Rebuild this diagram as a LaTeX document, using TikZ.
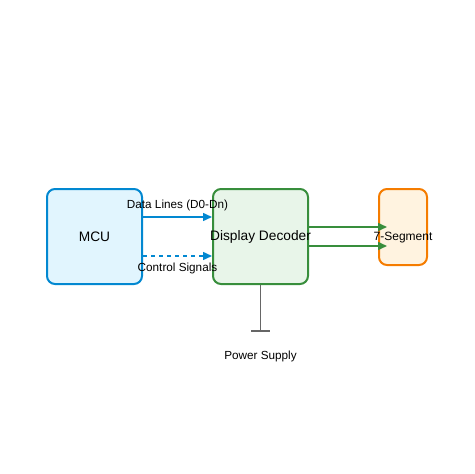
\documentclass[tikz,border=0pt]{standalone}
\definecolor{mcublue}{RGB}{2,136,209}
\definecolor{mcufill}{RGB}{225,245,254}
\definecolor{decgreen}{RGB}{56,142,60}
\definecolor{decfill}{RGB}{232,245,233}
\definecolor{segorange}{RGB}{245,124,0}
\definecolor{segfill}{RGB}{255,243,224}
\definecolor{pwrgray}{RGB}{102,102,102}
\usepackage{fontspec}
\setmainfont{Liberation Sans}
\usepackage{tikz}
\usetikzlibrary{arrows.meta, positioning}

\begin{document}
\begin{tikzpicture}[
    x=0.75pt, y=-0.75pt,
    box/.style={draw, line width=1.5pt, rounded corners=6pt, minimum width=71.25pt, minimum height=71.25pt, align=center, font=\fontsize{10.3}{12}\selectfont},
    arrow/.style={-{Triangle[length=6.75pt, width=6pt]}, line width=1.1pt},
    label/.style={font=\fontsize{8.8}{10}\selectfont, inner sep=1pt, text=black}
]
\useasboundingbox (0,0) rectangle (474,474);

% --- Blocks ---
\node[box, fill=mcufill, draw=mcublue] (mcu) at (94.5, 236.5) {MCU};
\node[box, fill=decfill, draw=decgreen] (dec) at (260.5, 236.5) {\makebox[0pt]{Display Decoder}};
\node[box, fill=segfill, draw=segorange, minimum width=36pt, minimum height=57pt] (seg) at (403, 227) {};
\node[label, font=\fontsize{9}{10}\selectfont] (seglbl) at (403, 238) {7-Segment};

% --- MCU to decoder ---
\draw[arrow, mcublue] (mcu.east |- 0,217) -- node[label, above=3pt] (datalbl) {Data Lines (D0-Dn)} (dec.west |- 0,217);
\draw[arrow, mcublue, dashed] (mcu.east |- 0,256) -- node[label, below=3.5pt] (ctrllbl) {Control Signals} (dec.west |- 0,256);

% --- Decoder to 7-segment ---
\draw[arrow, decgreen] (dec.east |- 0,227) -- ([xshift=6.75pt]seg.west |- 0,227);
\draw[arrow, decgreen] (dec.east |- 0,246) -- ([xshift=6.75pt]seg.west |- 0,246);

% --- Power supply ---
\coordinate (pwr) at (260.5, 331);
\draw[pwrgray, line width=1.1pt] (dec.south) -- (pwr);
\draw[pwrgray, line width=1.1pt] ([xshift=-7pt]pwr) -- ([xshift=7pt]pwr);
\node[label] (pwrlbl) at (260.5, 356) {Power Supply};

\end{tikzpicture}
\end{document}
